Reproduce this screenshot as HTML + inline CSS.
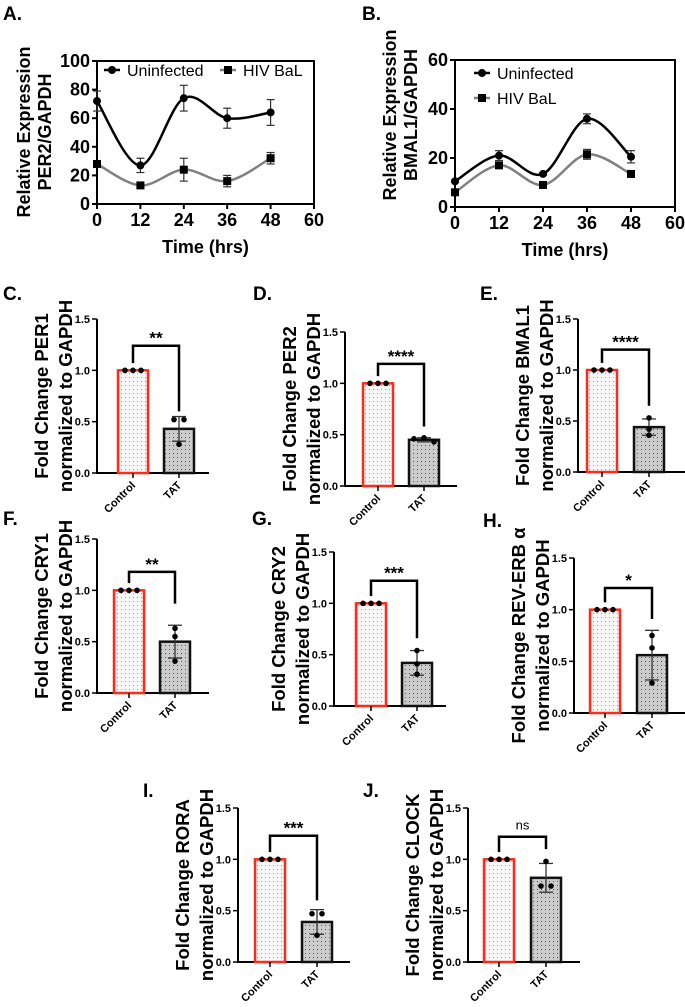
<!DOCTYPE html>
<html><head><meta charset="utf-8"><style>
html,body{margin:0;padding:0;background:#fff;}
svg{display:block;font-family:"Liberation Sans",Arial,sans-serif;}
</style></head><body>
<svg id="fig" width="685" height="1007" viewBox="0 0 685 1007" xmlns="http://www.w3.org/2000/svg">
<defs>
<pattern id="dotsCtrl" width="4" height="4" patternUnits="userSpaceOnUse"><rect width="4" height="4" fill="#f7f7f7"/><rect x="1" y="1" width="1" height="1" fill="#9a9a9a"/></pattern>
<pattern id="dotsTat" width="4" height="4" patternUnits="userSpaceOnUse"><rect width="4" height="4" fill="#cbcbcb"/><rect x="1" y="1" width="1" height="1" fill="#555"/></pattern>
</defs>
</svg>
<script>
// ---- Line chart data ----
const timeHours = [0, 12, 24, 36, 48];
const xTicks = [0, 12, 24, 36, 48, 60];
const per2Uninf = [72, 27, 74, 60, 64];
const per2UninfErr = [7, 5, 9, 7, 9];
const per2Hiv = [28, 13, 24, 16, 32];
const per2HivErr = [1, 1, 8, 4, 4];
const per2Ticks = [0, 20, 40, 60, 80, 100];
const bmalUninf = [10.5, 21, 13.5, 36, 20.5];
const bmalUninfErr = [0.5, 2, 0.5, 2, 2.5];
const bmalHiv = [6, 17, 9, 21.5, 13.5];
const bmalHivErr = [0.5, 1, 0.5, 2, 0.5];
const bmalTicks = [0, 20, 40, 60];
// ---- Bar chart data ----
const barGenes = ["PER1", "PER2", "BMAL1", "CRY1", "CRY2", "REV-ERB α", "RORA", "CLOCK"];
const barLetters = ["C.", "D.", "E.", "F.", "G.", "H.", "I.", "J."];
const controlMeans = [1, 1, 1, 1, 1, 1, 1, 1];
const tatMeans = [0.43, 0.45, 0.44, 0.50, 0.42, 0.56, 0.39, 0.82];
const tatErr = [0.12, 0.02, 0.08, 0.16, 0.12, 0.24, 0.12, 0.14];
const tatPoints = [[0.52, 0.52, 0.28], [0.46, 0.47, 0.43], [0.53, 0.42, 0.36], [0.63, 0.55, 0.31], [0.54, 0.41, 0.31], [0.75, 0.63, 0.29], [0.47, 0.47, 0.26], [0.98, 0.74, 0.74]];
const sigLabels = ["**", "****", "****", "**", "***", "*", "***", "ns"];
const bracketTop = [1.24, 1.19, 1.2, 1.18, 1.22, 1.21, 1.23, 1.22];
const bracketRightEnd = [0.6, 0.58, 0.65, 0.87, 0.66, 0.91, 0.6, 1.1];
const barTicks = [0, 0.5, 1.0, 1.5];

const NS = "http://www.w3.org/2000/svg";
const svg = document.getElementById('fig');
function mk(tag, attrs, parent, text) {
  const e = document.createElementNS(NS, tag);
  for (const k in attrs) e.setAttribute(k, attrs[k]);
  if (text !== undefined) e.textContent = text;
  (parent || svg).appendChild(e);
  return e;
}
function spline(pts) {
  let d = "M" + pts[0][0] + "," + pts[0][1];
  for (let i = 0; i < pts.length - 1; i++) {
    const p0 = pts[i - 1] || pts[i], p1 = pts[i], p2 = pts[i + 1], p3 = pts[i + 2] || p2;
    const c1 = [p1[0] + (p2[0] - p0[0]) / 6, p1[1] + (p2[1] - p0[1]) / 6];
    const c2 = [p2[0] - (p3[0] - p1[0]) / 6, p2[1] - (p3[1] - p1[1]) / 6];
    d += " C" + c1[0] + "," + c1[1] + " " + c2[0] + "," + c2[1] + " " + p2[0] + "," + p2[1];
  }
  return d;
}
const narrow = '"Liberation Sans Narrow","Liberation Sans",Arial,sans-serif';

function lineChart(cfg) {
  const g = mk('g', {});
  
  
  const xs = v => cfg.x0 + (v - 0) / 60 * (cfg.x1 - cfg.x0);
  const ys = v => cfg.y0 - v / cfg.ymax * (cfg.y0 - cfg.y1);
  const lbl = mk('text', {x: cfg.lx, y: cfg.ly, 'font-size': 19, 'font-weight': 'bold'}, g, cfg.letter);
  
  
  const frame = mk('rect', {x: cfg.x0, y: cfg.y1, width: cfg.x1 - cfg.x0, height: cfg.y0 - cfg.y1, fill: 'none', stroke: '#000', 'stroke-width': 2}, g);
  
  
  cfg.yticks.forEach(t => {
    mk('line', {x1: cfg.x0 - 5, x2: cfg.x0, y1: ys(t), y2: ys(t), stroke: '#000', 'stroke-width': 2}, g);
    const tl = mk('text', {x: cfg.x0 - 7, y: ys(t) + 6, 'font-size': 18, 'font-weight': 'bold', 'text-anchor': 'end', 'font-family': narrow}, g, t);
    
    
  });
  xTicks.forEach(t => {
    mk('line', {x1: xs(t), x2: xs(t), y1: cfg.y0, y2: cfg.y0 + 5, stroke: '#000', 'stroke-width': 2}, g);
    const tl = mk('text', {x: xs(t), y: cfg.y0 + 22, 'font-size': 18, 'font-weight': 'bold', 'text-anchor': 'middle', 'font-family': narrow}, g, t);
    
    
  });
  const xt = mk('text', {x: (cfg.x0 + cfg.x1) / 2, y: cfg.y0 + 49, 'font-size': 18, 'font-weight': 'bold', 'text-anchor': 'middle', 'font-family': narrow}, g, 'Time (hrs)');
  
  
  const yt = mk('text', {transform: 'translate(' + cfg.ytx + ',' + cfg.yty + ') rotate(-90)', 'font-size': 18, 'font-weight': 'bold', 'text-anchor': 'middle'}, g);
  
  
  mk('tspan', {x: 0, y: 0}, yt, 'Relative Expression');
  mk('tspan', {x: 0, y: 21}, yt, cfg.ylabel);
  [[cfg.s2, cfg.e2, '#808080', 'hiv-bal-series', 'sq'], [cfg.s1, cfg.e1, '#000', 'uninfected-series', 'ci']].forEach(([vals, errs, col, nm, shp]) => {
    const sg = mk('g', {}, g);
    
    
    const pts = timeHours.map((t, i) => [xs(t), ys(vals[i])]);
    mk('path', {d: spline(pts), fill: 'none', stroke: col, 'stroke-width': 2.5}, sg);
    timeHours.forEach((t, i) => {
      const x = xs(t), yTop = ys(vals[i] + errs[i]), yBot = ys(vals[i] - errs[i]);
      mk('line', {x1: x, x2: x, y1: yTop, y2: yBot, stroke: '#333', 'stroke-width': 1.2}, sg);
      mk('line', {x1: x - 4, x2: x + 4, y1: yTop, y2: yTop, stroke: '#333', 'stroke-width': 1.2}, sg);
      mk('line', {x1: x - 4, x2: x + 4, y1: yBot, y2: yBot, stroke: '#333', 'stroke-width': 1.2}, sg);
      let m;
      if (shp === 'sq') m = mk('rect', {x: x - 4, y: ys(vals[i]) - 4, width: 8, height: 8, fill: '#000'}, sg);
      else m = mk('circle', {cx: x, cy: ys(vals[i]), r: 4, fill: '#000'}, sg);
      
      
    });
  });
  cfg.legend.forEach(([lx, ly, col, shp, txt]) => {
    const lg = mk('g', {}, g);
    
    
    mk('line', {x1: lx, x2: lx + 16, y1: ly, y2: ly, stroke: col, 'stroke-width': 2.5}, lg);
    if (shp === 'sq') mk('rect', {x: lx + 4, y: ly - 4, width: 8, height: 8, fill: '#000'}, lg);
    else mk('circle', {cx: lx + 8, cy: ly, r: 4, fill: '#000'}, lg);
    mk('text', {x: lx + 23, y: ly + 6, 'font-size': 16}, lg, txt);
  });
}

lineChart({name: 'panel-a-per2-chart', letter: 'A.', lx: 3, ly: 20, x0: 97, x1: 314, y0: 204, y1: 61, ymax: 100,
  yticks: per2Ticks, ylabel: 'PER2/GAPDH', ytx: 30, yty: 132, s1: per2Uninf, e1: per2UninfErr, s2: per2Hiv, e2: per2HivErr,
  legend: [[104, 70, '#000', 'ci', 'Uninfected'], [220, 70, '#808080', 'sq', 'HIV BaL']]});
lineChart({name: 'panel-b-bmal1-chart', letter: 'B.', lx: 362, ly: 20, x0: 455, x1: 675, y0: 207, y1: 60, ymax: 60,
  yticks: bmalTicks, ylabel: 'BMAL1/GAPDH', ytx: 396, yty: 115, s1: bmalUninf, e1: bmalUninfErr, s2: bmalHiv, e2: bmalHivErr,
  legend: [[474, 73, '#000', 'ci', 'Uninfected'], [474, 98, '#808080', 'sq', 'HIV BaL']]});

const barLayout = [
  {ax: 97, top: 319, bot: 473, c: 118, t: 164, lx: 3, ly: 300},
  {ax: 345, top: 332, bot: 486, c: 363, t: 409, lx: 253, ly: 300},
  {ax: 578, top: 319, bot: 472, c: 587, t: 634, lx: 480, ly: 300},
  {ax: 97, top: 539, bot: 693, c: 114, t: 160, lx: 3, ly: 525},
  {ax: 334, top: 552, bot: 706, c: 356, t: 402, lx: 252, ly: 525},
  {ax: 574, top: 558, bot: 713, c: 590, t: 637, lx: 483, ly: 527},
  {ax: 238, top: 808, bot: 962, c: 255, t: 302, lx: 143, ly: 797},
  {ax: 468, top: 808, bot: 962, c: 484, t: 531, lx: 363, ly: 797}
];
const BW = 30;
barGenes.forEach((gene, i) => {
  const L = barLayout[i];
  const ys = v => L.bot - v / 1.5 * (L.bot - L.top);
  const g = mk('g', {});
  
  
  const pl = mk('text', {x: L.lx, y: L.ly, 'font-size': 19, 'font-weight': 'bold'}, g, barLetters[i]);
  
  
  mk('line', {x1: L.ax, x2: L.ax, y1: L.top, y2: L.bot + 1, stroke: '#000', 'stroke-width': 2}, g);
  mk('line', {x1: L.ax, x2: L.ax + 112, y1: L.bot, y2: L.bot, stroke: '#000', 'stroke-width': 2}, g);
  barTicks.forEach(t => {
    mk('line', {x1: L.ax - 5, x2: L.ax, y1: ys(t), y2: ys(t), stroke: '#000', 'stroke-width': 1.5}, g);
    const tl = mk('text', {x: L.ax - 7, y: ys(t) + 4, 'font-size': 11, 'font-weight': 'bold', 'text-anchor': 'end', 'font-family': narrow}, g, t.toFixed(1));
    
    
  });
  const midY = (L.top + L.bot) / 2;
  const yt = mk('text', {transform: 'translate(' + (L.ax - 49) + ',' + midY + ') rotate(-90)', 'font-size': 18.5, 'font-weight': 'bold', 'text-anchor': 'middle'}, g);
  
  
  mk('tspan', {x: 0, y: 0}, yt, 'Fold Change ' + gene);
  mk('tspan', {x: 0, y: 24}, yt, 'normalized to GAPDH');
  const cb = mk('rect', {x: L.c, y: ys(controlMeans[i]), width: BW, height: L.bot - ys(controlMeans[i]), fill: 'url(#dotsCtrl)', stroke: '#ff2a1a', 'stroke-width': 2.5}, g);
  
  
  const tb = mk('rect', {x: L.t, y: ys(tatMeans[i]), width: BW, height: L.bot - ys(tatMeans[i]), fill: 'url(#dotsTat)', stroke: '#111', 'stroke-width': 2.5}, g);
  
  
  const cx = L.c + BW / 2, tx = L.t + BW / 2;
  [[cx, 'Control'], [tx, 'TAT']].forEach(([x, s]) => {
    mk('line', {x1: x, x2: x, y1: L.bot, y2: L.bot + 5, stroke: '#000', 'stroke-width': 1.5}, g);
    const xl = mk('text', {transform: 'translate(' + (x + 3) + ',' + (L.bot + 13) + ') rotate(-45)', 'font-size': 11, 'font-weight': 'bold', 'text-anchor': 'end'}, g, s);
    
    
  });
  const eTop = ys(tatMeans[i] + tatErr[i]), eBot = ys(tatMeans[i] - tatErr[i]);
  const eg = mk('g', {stroke: '#333', 'stroke-width': 1.3}, g);
  
  
  mk('line', {x1: tx, x2: tx, y1: eTop, y2: eBot}, eg);
  mk('line', {x1: tx - 7, x2: tx + 7, y1: eTop, y2: eTop}, eg);
  mk('line', {x1: tx - 7, x2: tx + 7, y1: eBot, y2: eBot}, eg);
  [-8, 0, 8].forEach(dx => {
    const p = mk('circle', {cx: cx + dx, cy: ys(controlMeans[i]), r: 2.8, fill: '#000'}, g);
    
    
  });
  // TAT points: jitter coincident values side by side
  const pts = tatPoints[i];
  pts.forEach((v, k) => {
    const group = pts.map((u, j) => j).filter(j => Math.abs(pts[j] - v) * 102 < 5);
    let dx = 0;
    if (group.length > 1) {
      const pos = group.indexOf(k);
      dx = (pos - (group.length - 1) / 2) * 10;
    }
    const p = mk('circle', {cx: tx + dx, cy: ys(v), r: 2.8, fill: '#000'}, g);
    
    
  });
  const bt = ys(bracketTop[i]);
  const br = mk('path', {d: 'M' + cx + ',' + ys(1.07) + ' V' + bt + ' H' + tx + ' V' + ys(bracketRightEnd[i]), fill: 'none', stroke: '#000', 'stroke-width': 2.5}, g);
  
  
  const isNs = sigLabels[i] === 'ns';
  const sl = mk('text', {x: (cx + tx) / 2, y: isNs ? bt - 7 : bt - 2, 'font-size': isNs ? 13 : 17, 'font-weight': isNs ? 'normal' : 'bold', 'text-anchor': 'middle'}, g, sigLabels[i]);
  
  
});
</script>
</body></html>
